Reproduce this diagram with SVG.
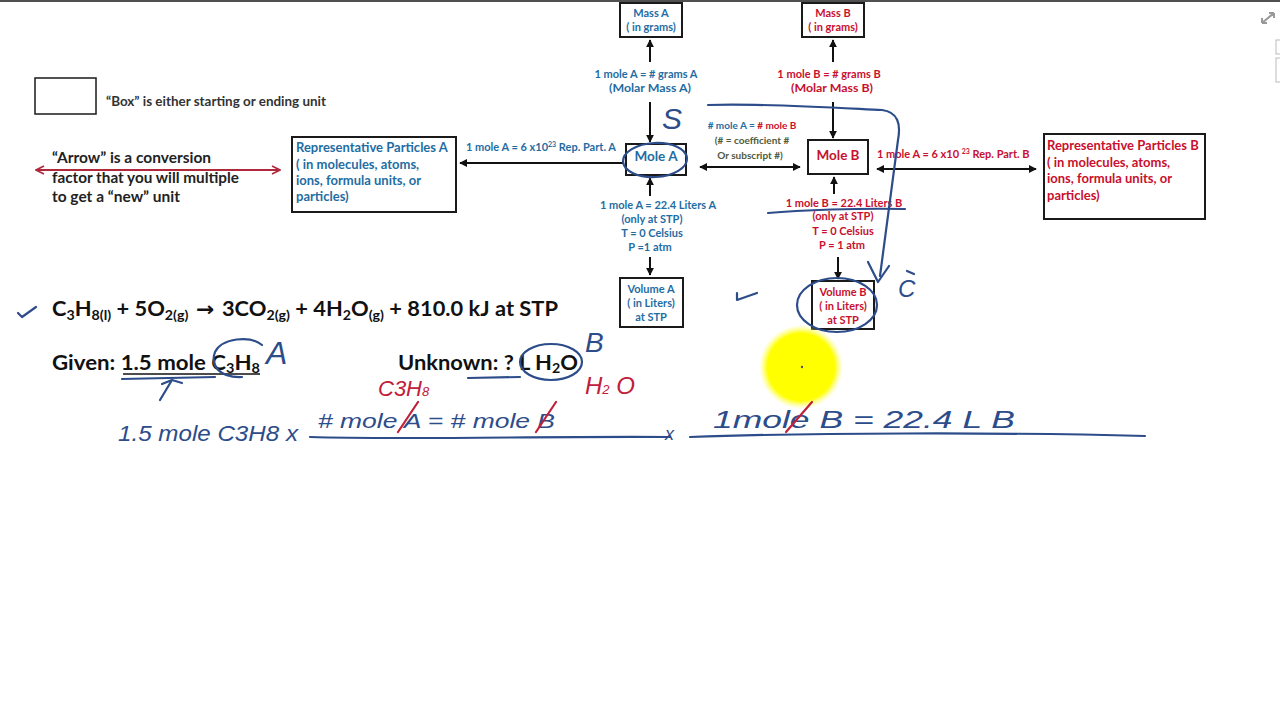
<svg xmlns="http://www.w3.org/2000/svg" width="1280" height="720" viewBox="0 0 1280 720">
<defs>
<style>
text{font-family:Lato,"Liberation Sans",sans-serif;font-weight:bold}
.box{fill:#fff;stroke:#1a1a1a;stroke-width:2}
.bl{fill:#1f6da3}
.rd{fill:#c8102e}
.gr{fill:#4f5a3c}
.lb{font-size:11px}
.sm{font-size:10px}
.bx{font-size:11px}
.big{font-size:13px}
.con{stroke:#111;stroke-width:2;fill:none}
.ink{stroke:#2d4c8a;stroke-width:2.2;fill:none;stroke-linecap:round;stroke-linejoin:round}
.redink{stroke:#c0203a;stroke-width:2.2;fill:none;stroke-linecap:round}
.hw{font-family:"Liberation Sans",sans-serif;font-weight:normal;fill:#2d4c8a;font-style:italic}
.hwr{font-family:"Liberation Sans",sans-serif;font-weight:normal;fill:#c0203a;font-style:italic}
.eq{fill:#111;font-size:20px}
</style>
<marker id="ah" viewBox="0 0 10 10" refX="9" refY="5" markerWidth="4" markerHeight="4" orient="auto-start-reverse"><path d="M0,0 L10,5 L0,10 z" fill="#111"/></marker>
<marker id="rh" viewBox="0 0 10 10" refX="9" refY="5" markerWidth="5" markerHeight="5" orient="auto-start-reverse"><path d="M1,1 L9,5 L1,9" fill="none" stroke="#b0283c" stroke-width="1.6"/></marker>
<radialGradient id="yg"><stop offset="0.8" stop-color="#ffff00"/><stop offset="1" stop-color="#ffff60" stop-opacity="0"/></radialGradient>
</defs>
<rect x="0" y="0" width="1280" height="720" fill="#fff"/>
<rect x="0" y="0" width="1280" height="2" fill="#505050"/>
<g id="ui-icons" stroke="#999" fill="none" stroke-width="2">
<path d="M1262,23 L1274,13 M1262,23 l0,-5 M1262,23 l5,0 M1274,13 l-5,0 M1274,13 l0,5"/>
<rect x="1276" y="40" width="8" height="14" stroke="#bbb" stroke-width="1"/>
<rect x="1276" y="58" width="8" height="24" stroke="#bbb" stroke-width="1"/>
</g>

<!-- legend -->
<g id="legend-box">
<rect x="35" y="78" width="61" height="36" fill="#fff" stroke="#1a1a1a" stroke-width="1.5"/>
<text x="106" y="106" font-size="12.5" fill="#333" textLength="220" lengthAdjust="spacingAndGlyphs">“Box” is either starting or ending unit</text>
</g>
<g id="legend-arrow">
<line x1="36" y1="170" x2="280" y2="170" stroke="#b0283c" stroke-width="2" marker-start="url(#rh)" marker-end="url(#rh)"/>
<text x="52" y="163" font-size="15" fill="#222" textLength="159" lengthAdjust="spacingAndGlyphs">“Arrow” is a conversion</text>
<text x="52" y="183" font-size="15" fill="#222" textLength="187" lengthAdjust="spacingAndGlyphs">factor that you will multiple</text>
<text x="52" y="202" font-size="15" fill="#222" textLength="128" lengthAdjust="spacingAndGlyphs">to get a “new” unit</text>
</g>

<!-- connectors -->
<g id="connectors">
<line class="con" x1="624" y1="163" x2="460" y2="163" marker-end="url(#ah)"/>
<line class="con" x1="650" y1="62" x2="650" y2="40" marker-end="url(#ah)"/>
<line class="con" x1="650" y1="102" x2="650" y2="142" marker-end="url(#ah)"/>
<line class="con" x1="650" y1="196" x2="650" y2="178" marker-end="url(#ah)"/>
<line class="con" x1="650" y1="257" x2="650" y2="275" marker-end="url(#ah)"/>
<line class="con" x1="833" y1="62" x2="833" y2="40" marker-end="url(#ah)"/>
<line class="con" x1="833" y1="102" x2="833" y2="138" marker-end="url(#ah)"/>
<line class="con" x1="834" y1="194" x2="834" y2="177" marker-end="url(#ah)"/>
<line class="con" x1="838" y1="257" x2="838" y2="279" marker-end="url(#ah)"/>
<line class="con" x1="700" y1="167" x2="800" y2="167" marker-start="url(#ah)" marker-end="url(#ah)"/>
<line class="con" x1="877" y1="169" x2="1036" y2="169" marker-start="url(#ah)" marker-end="url(#ah)"/>
<text class="bl lb" x="466" y="151">1 mole A = 6 x10<tspan font-size="7" dy="-4">23</tspan><tspan dy="4"> Rep. Part. A</tspan></text>
<text class="bl lb" x="646" y="78" text-anchor="middle">1 mole A = # grams A</text>
<text class="bl lb" x="650" y="92" text-anchor="middle" textLength="82" lengthAdjust="spacingAndGlyphs">(Molar Mass A)</text>
<text class="rd lb" x="829" y="78" text-anchor="middle">1 mole B = # grams B</text>
<text class="rd lb" x="832" y="92" text-anchor="middle" textLength="82" lengthAdjust="spacingAndGlyphs">(Molar Mass B)</text>
<text class="sm" x="752" y="129" text-anchor="middle"><tspan class="bl"># mole A = </tspan><tspan class="rd"># mole B</tspan></text>
<text class="gr sm" x="752" y="144" text-anchor="middle">(# = coefficient #</text>
<text class="gr sm" x="750" y="159" text-anchor="middle">Or subscript #)</text>
<text class="rd lb" x="877" y="158">1 mole A = 6 x10 <tspan font-size="7" dy="-4">23</tspan><tspan dy="4"> Rep. Part. B</tspan></text>
<text class="bl lb" x="658" y="209" text-anchor="middle">1 mole A = 22.4 Liters A</text>
<text class="bl lb" x="652" y="223" text-anchor="middle">(only at STP)</text>
<text class="bl lb" x="652" y="237" text-anchor="middle">T = 0 Celsius</text>
<text class="bl lb" x="650" y="251" text-anchor="middle">P =1 atm</text>
<text class="rd lb" x="844" y="207" text-anchor="middle">1 mole B = 22.4 Liters B</text>
<text class="rd lb" x="843" y="220" text-anchor="middle">(only at STP)</text>
<text class="rd lb" x="843" y="235" text-anchor="middle">T = 0 Celsius</text>
<text class="rd lb" x="842" y="249" text-anchor="middle">P = 1 atm</text>
</g>

<!-- nodes -->
<g id="mass-a"><rect class="box" x="620" y="3" width="62" height="34"/>
<text class="bl bx" x="651" y="17" text-anchor="middle">Mass A</text>
<text class="bl bx" x="651" y="31" text-anchor="middle">( in grams)</text></g>
<g id="mass-b"><rect class="box" x="802" y="3" width="62" height="34"/>
<text class="rd bx" x="833" y="17" text-anchor="middle">Mass B</text>
<text class="rd bx" x="833" y="31" text-anchor="middle">( in grams)</text></g>
<g id="mole-a"><rect class="box" x="626" y="144" width="60" height="31"/>
<text class="bl" font-size="13.5" x="656" y="161" text-anchor="middle">Mole A</text></g>
<g id="mole-b"><rect class="box" x="808" y="140" width="60" height="34"/>
<text class="rd" font-size="13.5" x="838" y="160" text-anchor="middle">Mole B</text></g>
<g id="rep-a"><rect class="box" x="292" y="137" width="164" height="75"/>
<text class="bl big" x="296" y="152">Representative Particles A</text>
<text class="bl big" x="296" y="169">( in molecules, atoms,</text>
<text class="bl big" x="296" y="185">ions, formula units, or</text>
<text class="bl big" x="296" y="201">particles)</text></g>
<g id="rep-b"><rect class="box" x="1044" y="134" width="161" height="85"/>
<text class="rd big" x="1047" y="150">Representative Particles B</text>
<text class="rd big" x="1047" y="167">( in molecules, atoms,</text>
<text class="rd big" x="1047" y="183">ions, formula units, or</text>
<text class="rd big" x="1047" y="200">particles)</text></g>
<g id="volume-a"><rect class="box" x="620" y="278" width="63" height="49"/>
<text class="bl bx" x="651" y="293" text-anchor="middle">Volume A</text>
<text class="bl bx" x="651" y="307" text-anchor="middle">( in Liters)</text>
<text class="bl bx" x="651" y="321" text-anchor="middle">at STP</text></g>
<g id="volume-b"><rect class="box" x="812" y="281" width="62" height="48"/>
<text class="rd bx" x="843" y="296" text-anchor="middle">Volume B</text>
<text class="rd bx" x="843" y="310" text-anchor="middle">( in Liters)</text>
<text class="rd bx" x="843" y="324" text-anchor="middle">at STP</text></g>

<!-- equation -->
<g id="equation">
<text class="eq" x="52" y="316" textLength="506" lengthAdjust="spacingAndGlyphs">C<tspan font-size="13" dy="4">3</tspan><tspan dy="-4">H</tspan><tspan font-size="13" dy="4">8(l)</tspan><tspan dy="-4"> + 5O</tspan><tspan font-size="13" dy="4">2(g)</tspan><tspan dy="-4" font-family="DejaVu Sans"> → </tspan><tspan>3CO</tspan><tspan font-size="13" dy="4">2(g)</tspan><tspan dy="-4"> + 4H</tspan><tspan font-size="13" dy="4">2</tspan><tspan dy="-4">O</tspan><tspan font-size="13" dy="4">(g)</tspan><tspan dy="-4"> + 810.0 kJ  at STP</tspan></text>
<text class="eq" x="52" y="370" textLength="208" lengthAdjust="spacingAndGlyphs">Given: 1.5 mole C<tspan font-size="13" dy="3">3</tspan><tspan dy="-3">H</tspan><tspan font-size="13" dy="3">8</tspan></text>
<line x1="123" y1="374" x2="260" y2="374" stroke="#111" stroke-width="1.5"/>
<text class="eq" x="398" y="370" textLength="180" lengthAdjust="spacingAndGlyphs">Unknown: ? L H<tspan font-size="13" dy="3">2</tspan><tspan dy="-3">O</tspan></text>
</g>

<!-- yellow pointer -->
<g id="pointer">
<circle cx="801" cy="367" r="42" fill="url(#yg)"/>
<circle cx="802" cy="367" r="1.2" fill="#555"/>
</g>

<!-- handwriting annotations -->
<g id="annotations">
<ellipse class="ink" cx="655" cy="160" rx="32" ry="17" transform="rotate(-3 655 160)"/>
<text class="hw" x="662" y="129" font-size="30">S</text>
<path class="ink" d="M708,105 C760,103 840,108 882,110 C898,112 901,124 898,140 L880,276"/>
<path class="ink" d="M868,262 L878,282 L889,266"/>
<ellipse class="ink" cx="837" cy="305" rx="40" ry="27"/>
<text class="hw" x="898" y="297" font-size="24">C</text>
<path class="ink" d="M907,271 L914,274"/>
<path class="ink" d="M768,213 C800,210 860,208 905,209"/>
<path class="ink" d="M737,293 L737,300 L757,293"/>
<path class="ink" d="M18,313 L22,317 L36,307"/>
<text class="hw" x="266" y="364" font-size="32">A</text>
<path class="ink" d="M262,345 C250,335 222,338 215,352 C210,366 220,378 242,377"/>
<path class="ink" d="M122,379 L215,377"/>
<path class="ink" d="M160,400 L172,380 M162,384 L172,380 L182,383"/>
<path class="ink" d="M468,378 L520,377"/>
<ellipse class="ink" cx="551" cy="362" rx="31" ry="18"/>
<text class="hw" x="585" y="352" font-size="28">B</text>
<text class="hwr" x="378" y="396" font-size="22">C3H<tspan font-size="13">8</tspan></text>
<text class="hwr" x="585" y="394" font-size="24">H<tspan font-size="13">2</tspan> O</text>
<text class="hw" x="118" y="441" font-size="22" textLength="180" lengthAdjust="spacingAndGlyphs">1.5 mole C3H8 x</text>
<text class="hw" x="318" y="428" font-size="21" textLength="237" lengthAdjust="spacingAndGlyphs"># mole A = # mole B</text>
<path class="redink" d="M398,432 L418,402 M536,432 L556,402"/>
<path class="ink" d="M310,437 C400,440 550,436 670,437"/>
<text class="hw" x="665" y="440" font-size="18">x</text>
<text class="hw" x="713" y="428" font-size="24" textLength="302" lengthAdjust="spacingAndGlyphs">1mole B = 22.4 L B</text>
<path class="redink" d="M786,432 L812,402"/>
<path class="ink" d="M690,437 C800,433 1000,432 1145,436"/>
</g>
</svg>
